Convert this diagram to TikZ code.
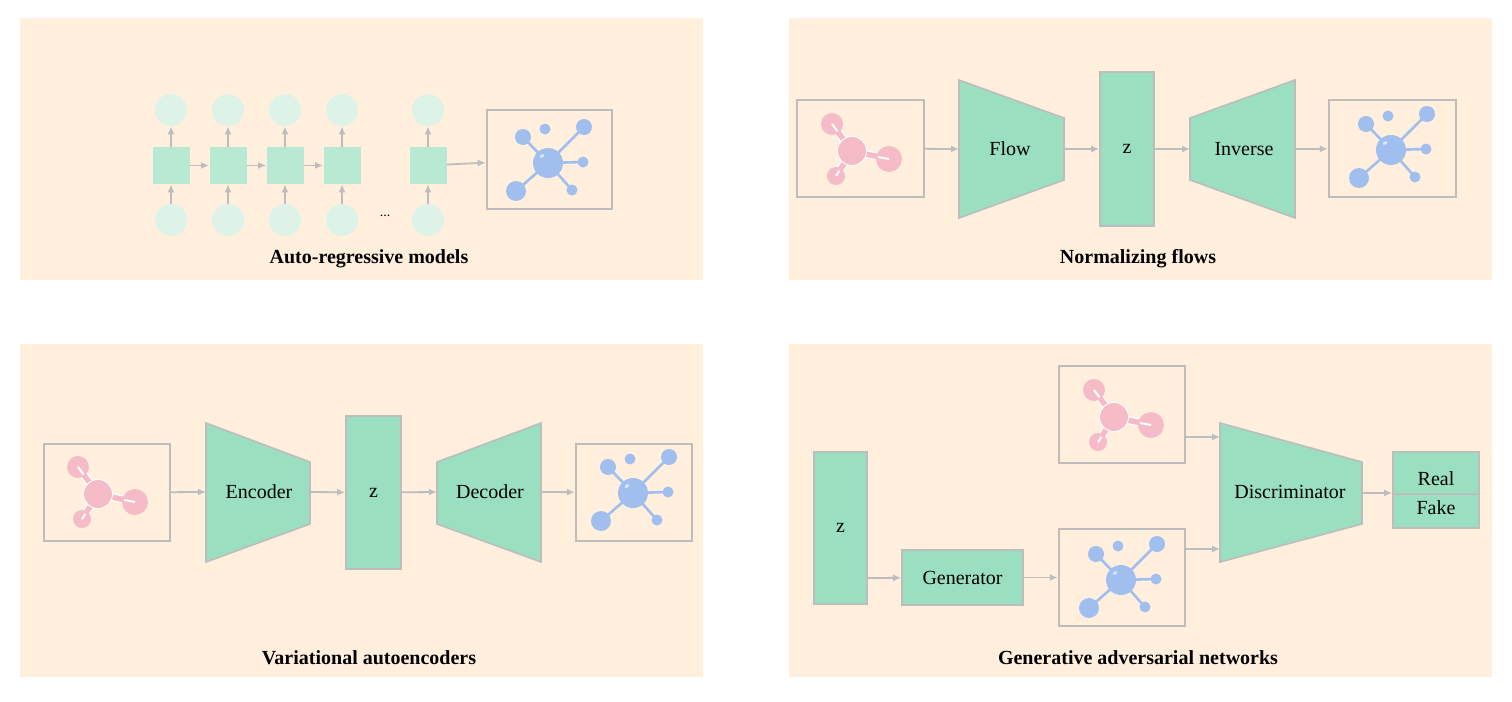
\documentclass[tikz,border=0pt]{standalone}
\usepackage{fontspec}
\setmainfont{Liberation Serif}
\usetikzlibrary{arrows.meta}
\definecolor{bgp}{HTML}{FFEFDC}
\definecolor{gr}{HTML}{BDBDBD}
\definecolor{tz}{HTML}{9ADFC0}
\definecolor{sq}{HTML}{B8E9D3}
\definecolor{ci}{HTML}{DDF3E8}
\definecolor{bl}{HTML}{A0BFEE}
\definecolor{pk}{HTML}{F5BCC8}
\tikzset{
 panel/.style={fill=bgp,draw=none},
 box/.style={draw=gr,line width=1.2pt},
 blk/.style={fill=tz,draw=gr,line width=0.8pt},
 arr/.style={draw=gr,line width=0.9pt,-{Latex[length=4pt,width=3.5pt]}},
 lab/.style={font=\fontsize{10}{12}\selectfont},
 ttl/.style={font=\fontsize{10}{12}\selectfont\bfseries},
 pics/bmol/.style={code={
  \draw[bl,line width=1.3pt] (0,0)--(-25,-26) (0,0)--(36,-36) (0,0)--(35,-1) (0,0)--(-32,28) (0,0)--(24,27);
  \fill[bl] (0,0) circle (15) (-25,-26) circle (8) (-3,-34) circle (5.5) (36,-36) circle (8) (35,-1) circle (5.5) (-32,28) circle (10) (24,27) circle (5.5);
  \fill[white,opacity=0.6,rotate around={30:(-6,-7)}] (-6,-7) ellipse (2.5 and 1.5);
 }},
 pics/pmol/.style={code={
  \draw[white,line width=4pt] (0,0)--(-20,-27) (0,0)--(37,8) (0,0)--(-16,25);
  \draw[pk,line width=2.6pt] (0,0)--(-20,-27) (0,0)--(37,8) (0,0)--(-16,25);
  \fill[pk] (-20,-27) circle (11) (37,8) circle (13) (-16,25) circle (9);
  \draw[white,line width=1pt] (-20,-27)--(-14,-19) (37,8)--(26,6) (-16,25)--(-12,19);
  \draw[pk,line width=2.6pt] (-14.5,-19.5)--(-8,-11) (25,5.5)--(13,3) (-12.5,19.5)--(-7,12);
  \fill[white] (0,0) circle (15);
  \fill[pk] (0,0) circle (14);
 }}
}
\begin{document}
\begin{tikzpicture}[x=0.5pt,y=-0.5pt]
\useasboundingbox (0,0) rectangle (1512,702);
\fill[white] (0,0) rectangle (1512,702);
% panels
\fill[panel] (20,18) rectangle (703,280);
\fill[panel] (789,18) rectangle (1492,280);
\fill[panel] (20,344) rectangle (703,677);
\fill[panel] (789,344) rectangle (1492,677);
\node[ttl] at (369,259) {Auto-regressive models};
\node[ttl] at (1138,259) {Normalizing flows};
\node[ttl] at (369,658) {Variational autoencoders};
\node[ttl] at (1138,658) {Generative adversarial networks};
% AR
\foreach \i/\x in {1/171,2/228,3/285,4/342,5/428}{
  \node[fill=sq,minimum width=18.5pt,minimum height=18.5pt,inner sep=0] (s\i) at (\x,165.5) {};
  \node[fill=ci,circle,minimum size=16pt,inner sep=0] (t\i) at (\x,110) {};
  \node[fill=ci,circle,minimum size=16pt,inner sep=0] (b\i) at (\x,220) {};
  \draw[arr] (s\i) -- (t\i);
  \draw[arr] (b\i) -- (s\i);
}
\foreach \a/\b in {1/2,2/3,3/4}{\draw[arr] (s\a) -- (s\b);}
\node[font=\fontsize{7}{8}\selectfont] at (385,216) {...};
\node[box,minimum width=62.5pt,minimum height=49.5pt,inner sep=0] (arout) at (549.5,159.5) {};
\pic at (548,163) {bmol};
\draw[arr] (s5) -- (arout);
% NF
\node[box,minimum width=63.5pt,minimum height=48.5pt,inner sep=0] (nfin) at (860.5,148.5) {};
\pic at (852,151) {pmol};
\draw[blk] (959,80)--(1064,118)--(1064,180)--(959,218)--cycle;
\node[lab] (flow) at (1010,149) {Flow};
\node[blk,minimum width=27pt,minimum height=77pt,inner sep=0] (nfz) at (1127,149) {};
\node[lab] at (nfz) {z};
\draw[blk] (1190,118)--(1295,80)--(1295,218)--(1190,180)--cycle;
\node[lab] at (1244,149) {Inverse};
\node[box,minimum width=63.5pt,minimum height=48.5pt,inner sep=0] (nfout) at (1392.5,148.5) {};
\pic at (1391,150) {bmol};
\coordinate (f1) at (959,149); \coordinate (f2) at (1064,149);
\coordinate (i1) at (1190,149); \coordinate (i2) at (1295,149);
\draw[arr] (nfin) -- (f1);
\draw[arr] (f2) -- (nfz);
\draw[arr] (nfz) -- (i1);
\draw[arr] (i2) -- (nfout);
% VAE
\node[box,minimum width=63pt,minimum height=48.5pt,inner sep=0] (vin) at (107,492.5) {};
\pic at (98,494) {pmol};
\draw[blk] (206,423)--(310,462)--(310,524)--(206,562)--cycle;
\node[lab] at (259,492) {Encoder};
\node[blk,minimum width=27.5pt,minimum height=76.5pt,inner sep=0] (vz) at (373.5,492.5) {};
\node[lab] at (vz) {z};
\draw[blk] (437,462)--(541,423)--(541,562)--(437,524)--cycle;
\node[lab] at (490,492) {Decoder};
\node[box,minimum width=58pt,minimum height=48.5pt,inner sep=0] (vout) at (634,492.5) {};
\pic at (633,493) {bmol};
\coordinate (e1) at (206,492); \coordinate (e2) at (310,492);
\coordinate (d1) at (437,492); \coordinate (d2) at (541,492);
\draw[arr] (vin) -- (e1);
\draw[arr] (e2) -- (vz);
\draw[arr] (vz) -- (d1);
\draw[arr] (d2) -- (vout);
% GAN
\node[box,minimum width=63pt,minimum height=48.5pt,inner sep=0] (greal) at (1122,414.5) {};
\pic at (1114,417) {pmol};
\node[box,minimum width=63pt,minimum height=48.5pt,inner sep=0] (gfake) at (1122,577.5) {};
\pic at (1121,580) {bmol};
\node[blk,minimum width=26.5pt,minimum height=76pt,inner sep=0] (gz) at (840.5,528) {};
\node[lab] at (840.5,528) {z};
\node[blk,minimum width=60.5pt,minimum height=27.5pt,inner sep=0] (gen) at (962.5,577.5) {};
\node[lab] at (gen) {Generator};
\draw[blk] (1220,423)--(1362,462)--(1362,524)--(1220,562)--cycle;
\node[lab] at (1290,492) {Discriminator};
\node[blk,minimum width=43pt,minimum height=38pt,inner sep=0] (rf) at (1436,490) {};
\draw[gr,line width=0.8pt] (1393,494)--(1479,494);
\node[lab] at (1436,479) {Real};
\node[lab] at (1436,508) {Fake};
\coordinate (zo) at (867,578);
\coordinate (r1) at (1185,437); \coordinate (r2) at (1220,437);
\coordinate (k1) at (1185,549); \coordinate (k2) at (1220,549);
\coordinate (dd) at (1362,493);
\draw[arr] (zo) -- (gen);
\draw[arr] (gen) -- (gfake);
\draw[arr] (r1) -- (r2);
\draw[arr] (k1) -- (k2);
\draw[arr] (dd) -- (rf.west |- dd);
\end{tikzpicture}
\end{document}
